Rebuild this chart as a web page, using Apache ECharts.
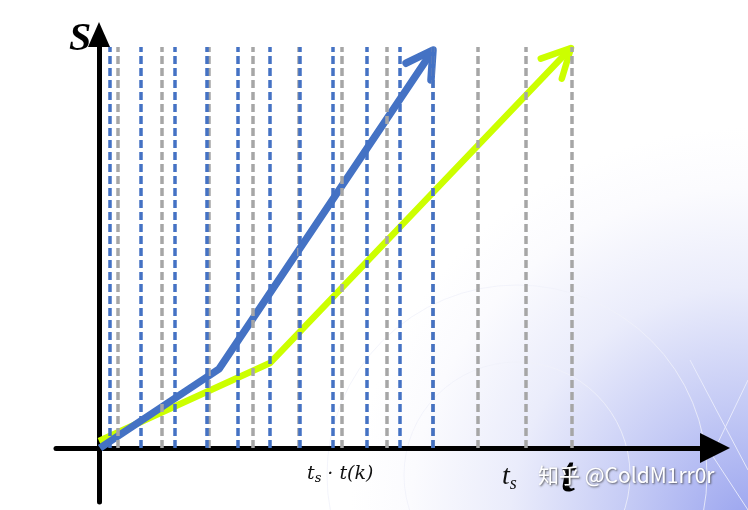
<!DOCTYPE html>
<html>
<head>
<meta charset="utf-8">
<script src="https://cdn.jsdelivr.net/npm/echarts@6/dist/echarts.min.js"></script>
<style>
html,body{margin:0;padding:0;background:#fff;}
#chart{width:748px;height:510px;}
</style>
</head>
<body>
<div id="chart"></div>
<script>
// ---- data (t in arbitrary time units, S in arbitrary distance units) ----
const blueGuideT = [1.1, 4.2, 7.6, 10.8, 13.9, 17.1, 20.1, 23.4, 26.8, 30.1, 33.4];
const grayGuideT = [1.9, 6.3, 11.0, 15.4, 20.0, 24.3, 28.8, 33.4, 37.9, 42.7, 47.3];
const guideTopS = 40.1;
const blueT = [0.1, 12.0, 33.4];
const blueS = [0.0, 7.9, 39.8];
const greenT = [0.0, 17.1, 47.2];
const greenS = [0.7, 8.5, 40.0];
const axisRangeT = [-4.3, 60.1];
const axisRangeS = [-5.4, 40.1];

const zip = (a, b) => a.map((v, i) => [v, b[i]]);
const guidePairs = arr => arr.map(t => [{coord: [t, 0]}, {coord: [t, guideTopS]}]);
const last = (t, s) => [t[t.length - 1], s[s.length - 1], t[t.length - 2], s[s.length - 2]];

const chart = echarts.init(document.getElementById('chart'));

function arrowHead(color, width, len, spreadDeg) {
  return function (params, api) {
    const tip = api.coord([api.value(0), api.value(1)]);
    const prev = api.coord([api.value(2), api.value(3)]);
    const ang = Math.atan2(tip[1] - prev[1], tip[0] - prev[0]) + Math.PI;
    const sp = spreadDeg * Math.PI / 180;
    const a1 = [tip[0] + len * Math.cos(ang - sp), tip[1] + len * Math.sin(ang - sp)];
    const a2 = [tip[0] + len * Math.cos(ang + sp), tip[1] + len * Math.sin(ang + sp)];
    return {
      type: 'polyline',
      shape: {points: [a1, tip, a2]},
      style: {stroke: color, lineWidth: width, fill: null, lineCap: 'round', lineJoin: 'round'}
    };
  };
}

const option = {
  animation: false,
  backgroundColor: {
    type: 'radial', x: 1.0, y: 1.03, r: 0.78,
    colorStops: [
      {offset: 0, color: '#9AA4EF'},
      {offset: 0.3, color: '#C4CAF5'},
      {offset: 0.6, color: '#EAECFB'},
      {offset: 0.85, color: '#FBFBFE'},
      {offset: 1, color: '#FFFFFF'}
    ]
  },
  grid: {left: 56, right: 48, top: 47, bottom: 8, containLabel: false},
  xAxis: {
    type: 'value', min: axisRangeT[0], max: axisRangeT[1],
    splitLine: {show: false}, axisTick: {show: false}, axisLabel: {show: false},
    axisLine: {show: true, onZero: true, lineStyle: {color: '#000', width: 5},
      symbol: ['none', 'triangle'], symbolSize: [30, 30], symbolOffset: [0, 15]}
  },
  yAxis: {
    type: 'value', min: axisRangeS[0], max: axisRangeS[1],
    splitLine: {show: false}, axisTick: {show: false}, axisLabel: {show: false},
    axisLine: {show: true, onZero: true, lineStyle: {color: '#000', width: 5},
      symbol: ['none', 'triangle'], symbolSize: [22, 25], symbolOffset: [0, 12.5]}
  },
  graphic: [
    {type: 'circle', shape: {cx: 517, cy: 475, r: 190}, style: {fill: null, stroke: 'rgba(240,241,250,0.8)', lineWidth: 1}, z: -10, silent: true},
    {type: 'circle', shape: {cx: 517, cy: 475, r: 113}, style: {fill: null, stroke: 'rgba(240,241,250,0.8)', lineWidth: 1}, z: -10, silent: true},
    {type: 'polyline', shape: {points: [[690, 360], [748, 470]]}, style: {stroke: 'rgba(235,237,252,0.9)', lineWidth: 1, fill: null}, z: -10, silent: true},
    {type: 'polyline', shape: {points: [[748, 380], [712, 455], [748, 510]]}, style: {stroke: 'rgba(235,237,252,0.9)', lineWidth: 1, fill: null}, z: -10, silent: true},
    {type: 'text', left: 69, top: 20, z: 1,
      style: {text: 'S', font: 'italic bold 40px "Liberation Serif"', fill: '#000'}},
    {type: 'text', left: 561, top: 453, z: 1,
      style: {text: 't', font: 'italic bold 50px "Liberation Serif"', fill: '#000'}},
    {type: 'text', left: 307, top: 465, z: 1,
      style: {
        text: '{a|t}{s|s}{a| · t(k)}',
        rich: {
          a: {font: 'italic 19px "DejaVu Serif"', fill: '#111'},
          s: {font: 'italic 13px "DejaVu Serif"', fill: '#111', padding: [9, 0, 0, 0]}
        }
      }},
    {type: 'text', left: 502, top: 463, z: 1,
      style: {
        text: '{a|t}{s|s}',
        rich: {
          a: {font: 'italic 28px "Liberation Serif"', fill: '#111'},
          s: {font: 'italic 18px "Liberation Serif"', fill: '#111', padding: [14, 0, 0, 0]}
        }
      }},
    {type: 'text', left: 538, top: 465, z: 2,
      style: {text: '知乎 @ColdM1rr0r', font: '21px "Noto Sans CJK SC"', fill: '#FFFFFF',
        textShadowColor: 'rgba(60,60,60,0.8)', textShadowBlur: 2, textShadowOffsetX: 1, textShadowOffsetY: 1}}
  ],
  series: [
    {
      type: 'line', data: [], silent: true,
      markLine: {silent: true, symbol: 'none', label: {show: false},
        lineStyle: {color: '#A6A6A6', width: 3.5, type: [8, 4]},
        data: guidePairs(grayGuideT)}
    },
    {
      type: 'line', data: [], silent: true,
      markLine: {silent: true, symbol: 'none', label: {show: false},
        lineStyle: {color: '#4472C4', width: 3.5, type: [8, 4]},
        data: guidePairs(blueGuideT)}
    },
    {
      type: 'line', data: zip(greenT, greenS), showSymbol: false, silent: true,
      lineStyle: {color: '#CCFF00', width: 6.5}
    },
    {
      type: 'custom', silent: true, renderItem: arrowHead('#CCFF00', 6.5, 32, 27),
      encode: {x: [0, 2], y: [1, 3]}, data: [last(greenT, greenS)]
    },
    {
      type: 'line', data: zip(blueT, blueS), showSymbol: false, silent: true,
      lineStyle: {color: '#4472C4', width: 7.5}
    },
    {
      type: 'custom', silent: true, renderItem: arrowHead('#4472C4', 7.5, 30, 30),
      encode: {x: [0, 2], y: [1, 3]}, data: [last(blueT, blueS)]
    }
  ]
};
chart.setOption(option);
</script>
</body>
</html>
